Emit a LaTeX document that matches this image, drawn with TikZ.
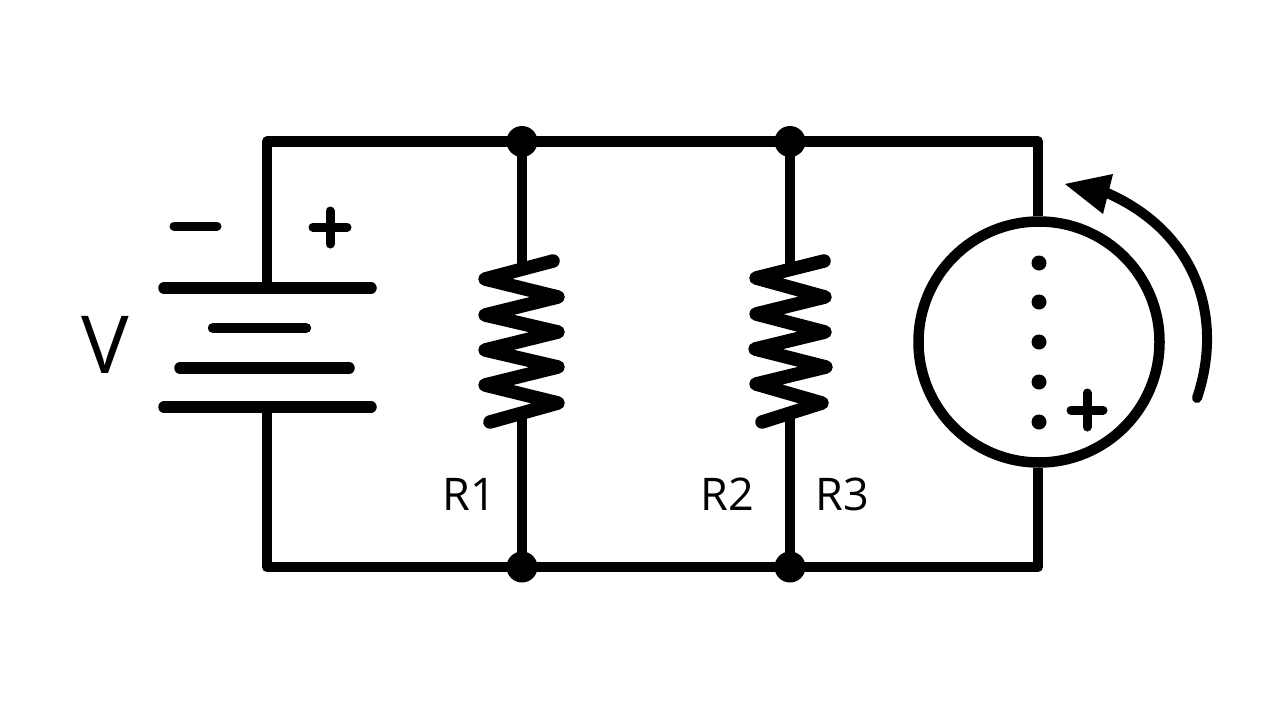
\documentclass[tikz,border=0pt]{standalone}
\usepackage{fontspec}
\setmainfont{Open Sans}
\tikzset{
  wire/.style={line width=10.5pt,line cap=round,line join=round,black},
  plate/.style={line width=11.5pt,line cap=round,black},
  zig/.style={line width=13.5pt,line cap=round,line join=round,black},
  sym/.style={line width=9pt,line cap=round,black},
  junction/.style={circle,fill=black,inner sep=0pt,minimum size=31pt},
  pip/.style={circle,fill=black,inner sep=0pt,minimum size=15pt},
  lab/.style={inner sep=0pt,text=black,font=\fontsize{45}{45}\selectfont},
}
\begin{document}
\begin{tikzpicture}[x=1pt,y=-1pt]
\useasboundingbox (0,0) rectangle (1280,720);
\fill[white] (0,0) rectangle (1280,720);
% corners and junctions
\coordinate (tl) at (267,141.5);
\coordinate (tr) at (1038,141.5);
\coordinate (bl) at (267,567);
\coordinate (br) at (1038,567);
\node[junction] (j1) at (522,141.5) {};
\node[junction] (j2) at (790,141.5) {};
\node[junction] (j3) at (522,567) {};
\node[junction] (j4) at (790,567) {};
\coordinate (battop) at (267,288);
\coordinate (batbot) at (267,407);
\node[circle,draw=black,line width=10.5pt,inner sep=0pt,minimum size=241pt] (src) at (1039,342) {};
\draw[wire,line cap=butt] (battop) -- (tl) -- (j1.center) -- (j2.center) -- (tr) -- (src.north -| tr);
\draw[wire,line cap=butt] (batbot) -- (bl) -- (j3.center) -- (j4.center) -- (br) -- (src.south -| br);
% battery
\draw[plate] (164,288) -- (371,288);
\draw[plate,line width=10.5pt] (213,328) -- (306,328);
\draw[plate] (180,368) -- (349,368);
\draw[plate] (164,407) -- (371,407);
\draw[sym] (174,226) -- (217,226);
\draw[sym] (313,227) -- (347,227);
\draw[sym] (330,211) -- (330,244);
% resistors
\coordinate (r1t) at (522,268);
\coordinate (r1b) at (522,416);
\coordinate (r2t) at (790,268);
\coordinate (r2b) at (790,416);
\draw[wire,line cap=butt] (j1.center) -- (r1t);
\draw[wire,line cap=butt] (r1b) -- (j3.center);
\draw[wire,line cap=butt] (j2.center) -- (r2t);
\draw[wire,line cap=butt] (r2b) -- (j4.center);
\draw[zig] (553,261) -- (485,279) -- (558,297) -- (485,315) -- (558,332) -- (485,350) -- (558,367) -- (485,385) -- (558,403) -- (490,422);
\draw[zig] (824,261) -- (756,278) -- (825,297) -- (756,314) -- (825,332) -- (755,349) -- (826,367) -- (756,384) -- (822,403) -- (762,422);
% source dots and plus
\node[pip] (d1) at (1039,263) {};
\node[pip] (d2) at (1039,302) {};
\node[pip] (d3) at (1039,342) {};
\node[pip] (d4) at (1039,382) {};
\node[pip] (d5) at (1039,422) {};
\draw[sym] (1071,410) -- (1103,410);
\draw[sym] (1087,393) -- (1087,427);
% curved arrow
\draw[line width=10pt,line cap=round,black] (1197,398) .. controls (1225,315) and (1195,228) .. (1100,190);
\fill[black] (1065,184) -- (1113,174) -- (1103,214) -- cycle;
% labels
\node[lab,font=\fontsize{80}{80}\selectfont] (v) at (105,345) {V};
\node[lab] (r1) at (469,494) {R1};
\node[lab] (r2) at (727,494) {R2};
\node[lab] (r3) at (842,494) {R3};
\end{tikzpicture}
\end{document}
